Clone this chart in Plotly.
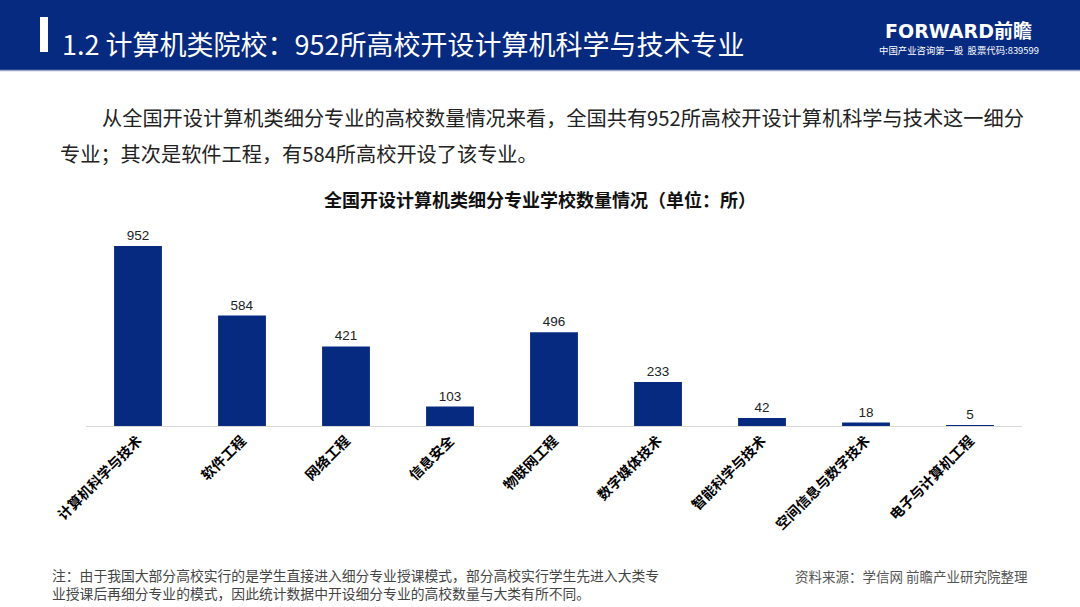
import plotly.graph_objects as go

categories = ["计算机科学与技术", "软件工程", "网络工程", "信息安全", "物联网工程",
              "数字媒体技术", "智能科学与技术", "空间信息与数字技术", "电子与计算机工程"]
values = [952, 584, 421, 103, 496, 233, 42, 18, 5]

FONT = "Noto Sans CJK SC"
BLUE = "#062a80"

L, R, T, B = 86, 58, 237, 181
W, H = 1080, 607
PW, PH = W - L - R, H - T - B


def px_x(x):
    return (x - L) / PW


def px_y(y):
    return (H - y - B) / PH


fig = go.Figure()
fig.add_trace(go.Bar(
    x=categories, y=values,
    marker=dict(color=BLUE, line=dict(width=0)),
    text=[str(v) for v in values], textposition="outside",
    textfont=dict(family="Liberation Sans, Arial", size=13.5, color="#222"),
    cliponaxis=False, width=0.46,
))

fig.update_layout(
    width=W, height=H,
    margin=dict(l=L, r=R, t=T, b=B),
    paper_bgcolor="white", plot_bgcolor="white",
    showlegend=False,
    xaxis=dict(tickangle=-45, tickfont=dict(family=FONT, size=14, color="#000", weight="bold"),
               showline=True, linecolor="#d9d9d9", linewidth=1, ticks="",
               showgrid=False, fixedrange=True),
    yaxis=dict(range=[0, 1000], visible=False, showgrid=False),
    shapes=[
        dict(type="rect", xref="paper", yref="paper", x0=px_x(0), x1=px_x(W),
             y0=px_y(70), y1=px_y(0), fillcolor=BLUE, line=dict(width=0), layer="below"),
        dict(type="line", xref="paper", yref="paper", x0=px_x(0), x1=px_x(W),
             y0=px_y(70.5), y1=px_y(70.5), line=dict(color="#9aa8cc", width=1.5)),
        dict(type="rect", xref="paper", yref="paper", x0=px_x(40), x1=px_x(48),
             y0=px_y(52), y1=px_y(17), fillcolor="white", line=dict(width=0)),
    ],
)

annotations = [
    dict(text="1.2 计算机类院校：952所高校开设计算机科学与技术专业", x=px_x(60), y=px_y(43),
         xanchor="left", yanchor="middle", font=dict(family=FONT, size=27, color="white")),
    dict(text="<b>FORWARD</b><span style='font-family:Noto Sans CJK SC'><b>前瞻</b></span>",
         x=px_x(958), y=px_y(29),
         xanchor="center", yanchor="middle", font=dict(family="DejaVu Sans", size=19, color="white")),
    dict(text="中国产业咨询第一股  股票代码:839599", x=px_x(959), y=px_y(50),
         xanchor="center", yanchor="middle", font=dict(family=FONT, size=9.4, color="white")),
    dict(text="从全国开设计算机类细分专业的高校数量情况来看，全国共有952所高校开设计算机科学与技术这一细分",
         x=px_x(100), y=px_y(117), xanchor="left", yanchor="middle",
         font=dict(family=FONT, size=20.2, color="#222")),
    dict(text="专业；其次是软件工程，有584所高校开设了该专业。",
         x=px_x(58), y=px_y(153), xanchor="left", yanchor="middle",
         font=dict(family=FONT, size=20.2, color="#222")),
    dict(text="<b>全国开设计算机类细分专业学校数量情况（单位：所）</b>",
         x=px_x(540), y=px_y(199), xanchor="center", yanchor="middle",
         font=dict(family=FONT, size=18, color="#111")),
    dict(text="注：由于我国大部分高校实行的是学生直接进入细分专业授课模式，部分高校实行学生先进入大类专<br>业授课后再细分专业的模式，因此统计数据中开设细分专业的高校数量与大类有所不同。",
         x=px_x(50), y=px_y(584), xanchor="left", yanchor="middle", align="left",
         font=dict(family=FONT, size=13.8, color="#444")),
    dict(text="资料来源：学信网 前瞻产业研究院整理",
         x=px_x(1030), y=px_y(576), xanchor="right", yanchor="middle",
         font=dict(family=FONT, size=13.5, color="#555")),
]
for a in annotations:
    a.update(xref="paper", yref="paper", showarrow=False)
fig.update_layout(annotations=annotations)

fig.write_html("out.html")
